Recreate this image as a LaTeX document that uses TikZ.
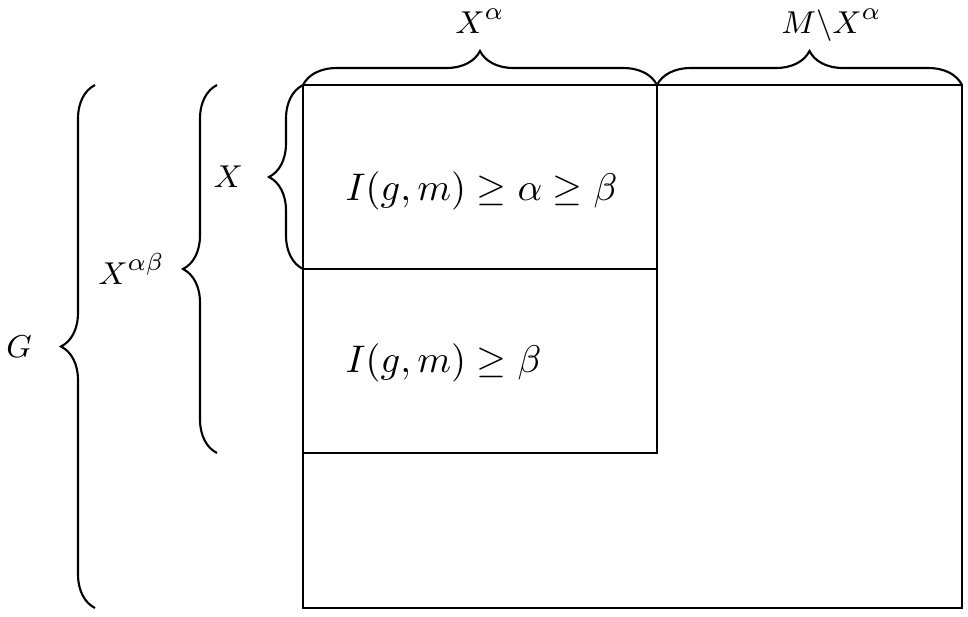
\documentclass[tikz,border=0pt]{standalone}
\usepackage{amsmath}
\usetikzlibrary{decorations.pathreplacing,positioning,calc}
\tikzset{
  cell/.style={draw, line width=0.6pt},
  curly/.style={decorate, decoration={brace, amplitude=3.4mm}, line width=0.6pt},
  setlabel/.style={font=\fontsize{9.5}{11}\selectfont, inner sep=0pt},
  cond/.style={font=\fontsize{11}{13}\selectfont, anchor=west, inner sep=0pt}
}
\begin{document}
\begin{tikzpicture}[x=0.1mm, y=-0.1mm]
    \useasboundingbox (0,0) rectangle (968,616);
    % corners of the table
    \coordinate (tl) at (303,85);
    \coordinate (tm) at (657,85);
    \coordinate (tr) at (962,85);
    \coordinate (ml) at (303,269);
    \coordinate (mm) at (657,269);
    \coordinate (ll) at (303,453);
    \coordinate (lm) at (657,453);
    \coordinate (bl) at (303,608);
    \coordinate (br) at (962,608);

    \draw[cell] (tl) rectangle (br);
    \draw[cell] (tl) rectangle (lm);
    \draw[cell] (ml) -- (mm);

    \node[cond] (strong) at (345,191) {$I(g,m) \geq \alpha \geq \beta$};
    \node[cond] (weak) at (345,363) {$I(g,m) \geq \beta$};

    % column braces
    \draw[curly] (tl) -- node[setlabel, anchor=base, yshift=5.2mm] (xa) {$X^{\alpha}$} (tm);
    \draw[curly] (tm) -- node[setlabel, anchor=base, yshift=5.2mm, xshift=2.2mm] (mxa) {$M\backslash X^{\alpha}$} (tr);

    % row braces
    \draw[curly] (ml) -- node[setlabel, left=5.9mm] (x) {$X$} (tl);
    \draw[curly] ($(ll)+(-86,0)$) -- node[setlabel, left=5.1mm] (xab) {$X^{\alpha\beta}$} ($(tl)+(-86,0)$);
    \draw[curly] ($(bl)+(-208,0)$) -- node[setlabel, left=6.2mm] (g) {$G$} ($(tl)+(-208,0)$);
\end{tikzpicture}
\end{document}
